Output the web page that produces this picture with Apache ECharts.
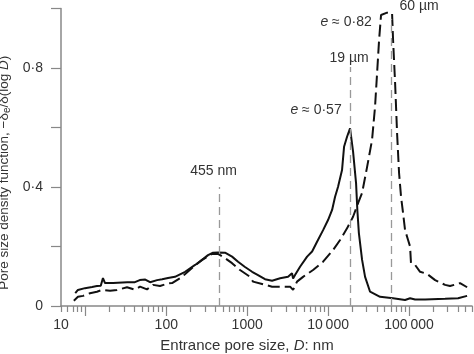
<!DOCTYPE html>
<html>
<head>
<meta charset="utf-8">
<script src="https://cdn.jsdelivr.net/npm/echarts@6/dist/echarts.min.js"></script>
<style>
html,body{margin:0;padding:0;background:#fff;}
#chart{width:474px;height:354px;}
</style>
</head>
<body>
<div id="chart"></div>
<script>
// ---- Data (pore diameter D in nm, density values) ----
// Solid curve: e ≈ 0·57
const solidD = [7.5, 8.1, 9.9, 12.1, 13.9, 15.5, 16.5, 17.5, 22, 33, 41, 47, 55, 63, 77, 89, 105, 128, 171, 227, 277, 328, 378, 436, 532, 650, 771, 940, 1150, 1360, 1660, 2030, 2550, 3200, 3580, 3690, 3900, 4500, 5500, 6340, 7300, 8670, 9980, 11200, 12190, 13270, 14860, 15740, 17140, 18670, 20330, 22150, 23000, 24000, 26300, 28640, 33000, 43850, 63500, 89300, 103000, 118800, 157900, 279000, 403600, 522000];
const solidV = [0.043, 0.054, 0.060, 0.064, 0.067, 0.068, 0.094, 0.077, 0.077, 0.080, 0.080, 0.087, 0.089, 0.080, 0.087, 0.090, 0.094, 0.098, 0.115, 0.138, 0.155, 0.171, 0.179, 0.180, 0.179, 0.166, 0.149, 0.131, 0.115, 0.104, 0.090, 0.085, 0.093, 0.098, 0.110, 0.092, 0.104, 0.132, 0.166, 0.183, 0.216, 0.255, 0.289, 0.323, 0.367, 0.401, 0.457, 0.535, 0.569, 0.597, 0.520, 0.413, 0.320, 0.245, 0.155, 0.098, 0.048, 0.031, 0.026, 0.020, 0.026, 0.022, 0.022, 0.024, 0.026, 0.034];
// Dashed curve: e ≈ 0·82
const dashedD = [7.2, 8.1, 9.35, 11.4, 13.9, 16.1, 20.2, 24.6, 32.7, 41, 47.4, 57.8, 68.5, 83.7, 105, 118, 157, 208, 277, 367, 436, 532, 650, 816, 1084, 1181, 1527, 2029, 2547, 3388, 3690, 4130, 4900, 6516, 8670, 11500, 14060, 17140, 20330, 23450, 26300, 30300, 34900, 38000, 40300, 42650, 45100, 53500, 61700, 63500, 67300, 71200, 75300, 79700, 84400, 89300, 97300, 103000, 105700, 118800, 137000, 167000, 210000, 279000, 321000, 427000, 522000];
const dashedV = [0.018, 0.031, 0.034, 0.043, 0.048, 0.054, 0.051, 0.054, 0.063, 0.055, 0.065, 0.056, 0.071, 0.067, 0.076, 0.077, 0.098, 0.128, 0.155, 0.175, 0.175, 0.161, 0.144, 0.121, 0.098, 0.082, 0.074, 0.065, 0.065, 0.065, 0.054, 0.082, 0.098, 0.121, 0.149, 0.188, 0.222, 0.261, 0.300, 0.346, 0.380, 0.467, 0.558, 0.669, 0.783, 0.894, 0.978, 0.986, 0.984, 0.894, 0.749, 0.580, 0.447, 0.367, 0.312, 0.255, 0.222, 0.200, 0.145, 0.138, 0.115, 0.108, 0.087, 0.071, 0.067, 0.077, 0.063];

// Axis range and tick labels
const xMinD = 5, xMaxD = 600000;
const xLabelD = [5, 100, 1000, 10000, 100000];
const xLabelText = ['10', '100', '1000', '10\u2009000', '100\u2009000'];
const xMajorD = [10, 100, 1000, 10000, 100000];
const yTicks = [0, 0.2, 0.4, 0.6, 0.8, 1.0];
const yLabelVals = [0, 0.4, 0.8];
const yLabelText = ['0', '0·4', '0·8'];

// Reference lines (D, top value)
const refD = [455, 19000, 60000];
const refTop = [0.40, 0.803, 0.965];

const L = Math.log10;
const xMinorVals = [];
for (let n = 0; n <= 5; n++) {
  for (let k = 1; k <= 9; k++) {
    const d = k * Math.pow(10, n);
    if (d >= xMinD && d <= xMaxD && xMajorD.indexOf(d) < 0) xMinorVals.push(L(d));
  }
}

const solidData = solidD.map((d, i) => [L(d), solidV[i]]);
const dashedData = dashedD.map((d, i) => [L(d), dashedV[i]]);

const font = 'Liberation Sans, Arial, sans-serif';
const txtColor = '#333';
const axisColor = '#888';

const chart = echarts.init(document.getElementById('chart'), null, {renderer: 'canvas'});
const lblMap = {};
xLabelD.forEach((d, i) => { lblMap[L(d).toFixed(4)] = xLabelText[i]; });
const yMap = {};
yLabelVals.forEach((v, i) => { yMap[v.toFixed(2)] = yLabelText[i]; });

const refLines = refD.map((d, i) => [
  {coord: [L(d), 0]},
  {coord: [L(d), refTop[i]]}
]);

const annotations = [
  {coord: [2.584, 0.454], label: {formatter: '455 nm'}},
  {coord: [4.259, 0.834], label: {formatter: '19 µm'}},
  {coord: [5.124, 1.0], label: {formatter: '60 µm', offset: [0, -2]}},
  {coord: [3.851, 0.659], label: {formatter: '{i|e} ≈ 0·57'}},
  {coord: [4.222, 0.955], label: {formatter: '{i|e} ≈ 0·82'}}
];

chart.setOption({
  animation: false,
  backgroundColor: '#fff',
  grid: {left: 61, right: 2, top: 8.5, bottom: 48, containLabel: false, outerBoundsMode: 'none'},
  xAxis: [
    {
      type: 'value', min: L(xMinD), max: L(xMaxD), position: 'bottom',
      axisLine: {show: true, lineStyle: {color: axisColor, width: 1.5}},
      axisTick: {show: true, length: 6, customValues: xMinorVals, lineStyle: {color: axisColor, width: 1.2}},
      axisLabel: {show: false},
      splitLine: {show: false}
    },
    {
      type: 'value', min: L(xMinD), max: L(xMaxD), position: 'bottom', offset: 0,
      axisLine: {show: false},
      axisTick: {show: true, length: 10, customValues: xMajorD.map(L), lineStyle: {color: axisColor, width: 1.2}},
      axisLabel: {
        show: true, margin: 12, customValues: xLabelD.map(L),
        fontFamily: font, fontSize: 14, color: txtColor,
        formatter: v => lblMap[v.toFixed(4)] || ''
      },
      splitLine: {show: false},
      name: 'Entrance pore size, {i|D}: nm',
      nameLocation: 'middle', nameGap: 32,
      nameTextStyle: {fontFamily: font, fontSize: 15, color: txtColor, padding: [0, 39, 0, 0],
        rich: {i: {fontFamily: font, fontSize: 15, fontStyle: 'italic', color: txtColor}}}
    }
  ],
  yAxis: {
    type: 'value', min: 0, max: 1,
    axisLine: {show: true, lineStyle: {color: axisColor, width: 1.5}},
    axisTick: {show: true, length: 10, customValues: yTicks, lineStyle: {color: axisColor, width: 1.2}},
    axisLabel: {
      show: true, margin: 18, customValues: yLabelVals,
      fontFamily: font, fontSize: 14, color: txtColor,
      formatter: v => yMap[v.toFixed(2)] || ''
    },
    splitLine: {show: false},
    name: 'Pore size density function, −δ{s|e}/δ(log {i|D})',
    nameLocation: 'middle', nameRotate: 90, nameGap: 41,
    nameTextStyle: {fontFamily: font, fontSize: 13.5, color: txtColor, padding: [0, 31, 0, 0],
      rich: {
        i: {fontFamily: font, fontSize: 13.5, fontStyle: 'italic', color: txtColor},
        s: {fontFamily: font, fontSize: 10, color: txtColor, verticalAlign: 'bottom', padding: [6, 0, 0, 0]}
      }}
  },
  series: [
    {
      name: 'e ≈ 0·57', type: 'line', data: solidData, xAxisIndex: 0,
      showSymbol: false, symbol: 'none', smooth: false, z: 3,
      lineStyle: {color: '#111', width: 2}
    },
    {
      name: 'e ≈ 0·82', type: 'line', data: dashedData, xAxisIndex: 0,
      showSymbol: false, symbol: 'none', smooth: false, z: 3,
      lineStyle: {color: '#111', width: 2, type: [12, 5]}
    },
    {
      name: 'refs', type: 'line', data: [], xAxisIndex: 0, z: 2,
      markLine: {
        silent: true, symbol: ['none', 'none'], animation: false,
        lineStyle: {color: '#999', width: 1.3, type: [8, 5]},
        label: {show: false},
        data: refLines
      },
      markPoint: {
        silent: true, symbol: 'circle', symbolSize: 0, animation: false,
        label: {show: true, position: 'inside', fontFamily: font, fontSize: 14, color: txtColor,
          rich: {i: {fontFamily: font, fontSize: 14, fontStyle: 'italic', color: txtColor}}},
        data: annotations
      }
    }
  ]
});
</script>
</body>
</html>
